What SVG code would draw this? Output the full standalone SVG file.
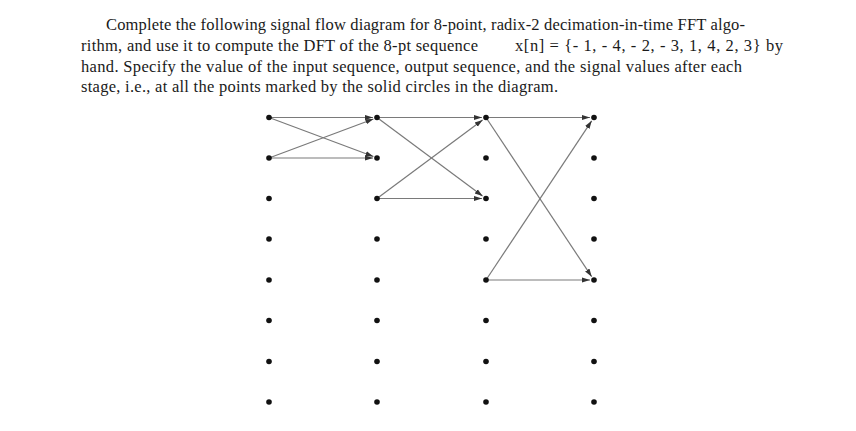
<svg xmlns="http://www.w3.org/2000/svg" width="856" height="431" viewBox="0 0 856 431">
<defs>
<style>
.t{font-family:"Liberation Serif","Times New Roman",serif;font-size:16.5px;fill:#1a1a1a}
.e{stroke:#7a7a7a;stroke-width:1.2;fill:none;marker-end:url(#ah)}
.d{fill:#111}
</style>
<marker id="ah" markerUnits="userSpaceOnUse" markerWidth="10" markerHeight="8" refX="8" refY="3" orient="auto" viewBox="0 0 10 6">
<path d="M0,0.4 L8,3 L0,5.6 Z" fill="#333"/>
</marker>
</defs>
<rect width="856" height="431" fill="#fff"/>
<g id="text">
<text class="t" x="106" y="30" textLength="639" lengthAdjust="spacing">Complete the following signal flow diagram for 8-point, radix-2 decimation-in-time FFT algo-</text>
<text class="t" x="81" y="51" textLength="397" lengthAdjust="spacing">rithm, and use it to compute the DFT of the 8-pt sequence</text>
<text class="t" x="515" y="51" textLength="268" lengthAdjust="spacing">x[n] = {- 1, - 4, - 2, - 3, 1, 4, 2, 3} by</text>
<text class="t" x="81" y="71.5" textLength="661" lengthAdjust="spacing">hand. Specify the value of the input sequence, output sequence, and the signal values after each</text>
<text class="t" x="81" y="92" textLength="477" lengthAdjust="spacing">stage, i.e., at all the points marked by the solid circles in the diagram.</text>
</g>
<g id="connectors">
<line class="e" x1="269" y1="117.5" x2="373" y2="117.5"/>
<line class="e" x1="269" y1="117.5" x2="373.4" y2="156.5"/>
<line class="e" x1="269" y1="158" x2="373.4" y2="119"/>
<line class="e" x1="269" y1="158" x2="373" y2="158"/>
<line class="e" x1="377" y1="117.5" x2="482" y2="117.5"/>
<line class="e" x1="377" y1="117.5" x2="482.6" y2="196.1"/>
<line class="e" x1="377" y1="198.5" x2="482.6" y2="119.9"/>
<line class="e" x1="377" y1="198.5" x2="482" y2="198.5"/>
<line class="e" x1="486" y1="117.5" x2="590" y2="117.5"/>
<line class="e" x1="486" y1="117.5" x2="591.7" y2="276.7"/>
<line class="e" x1="486" y1="280" x2="591.7" y2="120.8"/>
<line class="e" x1="486" y1="280" x2="590" y2="280"/>
</g>
<g id="col0">
<circle class="d" cx="269" cy="117.5" r="2.8"/><circle class="d" cx="269" cy="158" r="2.8"/><circle class="d" cx="269" cy="198.5" r="2.8"/><circle class="d" cx="269" cy="239" r="2.8"/><circle class="d" cx="269" cy="280" r="2.8"/><circle class="d" cx="269" cy="320.5" r="2.8"/><circle class="d" cx="269" cy="361.5" r="2.8"/><circle class="d" cx="269" cy="402" r="2.8"/>
</g>
<g id="col1">
<circle class="d" cx="377" cy="117.5" r="2.8"/><circle class="d" cx="377" cy="158" r="2.8"/><circle class="d" cx="377" cy="198.5" r="2.8"/><circle class="d" cx="377" cy="239" r="2.8"/><circle class="d" cx="377" cy="280" r="2.8"/><circle class="d" cx="377" cy="320.5" r="2.8"/><circle class="d" cx="377" cy="361.5" r="2.8"/><circle class="d" cx="377" cy="402" r="2.8"/>
</g>
<g id="col2">
<circle class="d" cx="486" cy="117.5" r="2.8"/><circle class="d" cx="486" cy="158" r="2.8"/><circle class="d" cx="486" cy="198.5" r="2.8"/><circle class="d" cx="486" cy="239" r="2.8"/><circle class="d" cx="486" cy="280" r="2.8"/><circle class="d" cx="486" cy="320.5" r="2.8"/><circle class="d" cx="486" cy="361.5" r="2.8"/><circle class="d" cx="486" cy="402" r="2.8"/>
</g>
<g id="col3">
<circle class="d" cx="594" cy="117.5" r="2.8"/><circle class="d" cx="594" cy="158" r="2.8"/><circle class="d" cx="594" cy="198.5" r="2.8"/><circle class="d" cx="594" cy="239" r="2.8"/><circle class="d" cx="594" cy="280" r="2.8"/><circle class="d" cx="594" cy="320.5" r="2.8"/><circle class="d" cx="594" cy="361.5" r="2.8"/><circle class="d" cx="594" cy="402" r="2.8"/>
</g>
</svg>
